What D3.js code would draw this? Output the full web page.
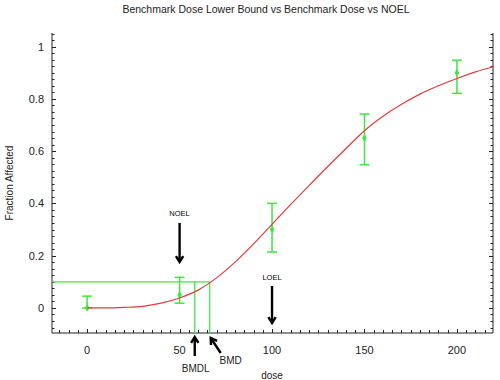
<!DOCTYPE html>
<html>
<head>
<meta charset="utf-8">
<script src="https://cdn.jsdelivr.net/npm/d3@7"></script>
<style>
  body { margin: 0; background: #fff; }
  svg { display: block; font-family: "Liberation Sans", Arial, sans-serif; }
</style>
</head>
<body>
<svg width="500" height="380"></svg>
<script>
// Observed dose groups with error bars.
const doses = [0, 50, 100, 150, 200];
const observed = [0, 0.05, 0.30, 0.65, 0.90];
const lower = [0, 0.018, 0.214, 0.548, 0.821];
const upper = [0.045, 0.117, 0.40, 0.742, 0.948];

// Fitted model curve.
const curveDose = [0, 10, 20, 30, 40, 50, 60, 70, 80, 90, 100, 110, 120, 130, 140, 150, 160, 170, 180, 190, 200, 210, 220];
const curveFrac = [0, 0.000, 0.002, 0.006, 0.018, 0.038, 0.068, 0.115, 0.175, 0.245, 0.32, 0.395, 0.468, 0.54, 0.61, 0.678, 0.733, 0.779, 0.818, 0.85, 0.878, 0.903, 0.924];

// Benchmark values.
const bmr = 0.1;
const bmd = 66.3;
const bmdl = 58.2;
const noel = 50;
const loel = 100;

// Tick labels.
const xTicks = [0, 50, 100, 150, 200];
const yTicks = [0, 0.2, 0.4, 0.6, 0.8, 1];

const green = "#3fe83f";
const red = "#e33b3b";

let svg = d3.select("svg");

let x = d3.scaleLinear().domain([-19, 219.5]).range([52, 493]);
let y = d3.scaleLinear().domain([-0.096, 1.052]).range([333, 33]);

// Title.
svg.append("text")
    .attr("x", 266).attr("y", 13)
    .attr("text-anchor", "middle")
    .style("font-size", "10.5px")
    .style("fill", "#222")
    .text("Benchmark Dose Lower Bound vs Benchmark Dose vs NOEL");

// Axes lines.
svg.append("line").attr("x1", 52).attr("x2", 52).attr("y1", 33).attr("y2", 333).style("stroke", "#222");
svg.append("line").attr("x1", 493).attr("x2", 493).attr("y1", 33).attr("y2", 333).style("stroke", "#222");
svg.append("line").attr("x1", 52).attr("x2", 493).attr("y1", 333).attr("y2", 333).style("stroke", "#222");

// Minor ticks on the y axes (inward on both sides).
let yMinor = d3.range(-0.075, 1.051, 0.025);
svg.selectAll(".ymin").data(yMinor).enter().append("line")
    .attr("x1", 52).attr("x2", 54.5)
    .attr("y1", d => Math.round(y(d)) + 0.5).attr("y2", d => Math.round(y(d)) + 0.5)
    .style("stroke", "#222");
svg.selectAll(".ymin2").data(yMinor).enter().append("line")
    .attr("x1", 490.5).attr("x2", 493)
    .attr("y1", d => Math.round(y(d)) + 0.5).attr("y2", d => Math.round(y(d)) + 0.5)
    .style("stroke", "#222");
svg.selectAll(".ymaj").data(yTicks).enter().append("line")
    .attr("x1", 52).attr("x2", 56)
    .attr("y1", d => Math.round(y(d)) + 0.5).attr("y2", d => Math.round(y(d)) + 0.5)
    .style("stroke", "#222");
svg.selectAll(".ymaj2").data(yTicks).enter().append("line")
    .attr("x1", 489).attr("x2", 493)
    .attr("y1", d => Math.round(y(d)) + 0.5).attr("y2", d => Math.round(y(d)) + 0.5)
    .style("stroke", "#222");

// Y tick labels.
svg.selectAll(".ylab").data(yTicks).enter().append("text")
    .attr("x", 44).attr("y", d => y(d) + 4)
    .attr("text-anchor", "end")
    .style("font-size", "11px").style("fill", "#222")
    .text(d => d3.format("~g")(d));

// Minor ticks on the x axis, every 5.
let xMinor = d3.range(-15, 219, 5);
svg.selectAll(".xmin").data(xMinor).enter().append("line")
    .attr("x1", d => Math.round(x(d)) + 0.5).attr("x2", d => Math.round(x(d)) + 0.5)
    .attr("y1", 333).attr("y2", 330)
    .style("stroke", "#222");
svg.selectAll(".xmaj").data(xTicks).enter().append("line")
    .attr("x1", d => Math.round(x(d)) + 0.5).attr("x2", d => Math.round(x(d)) + 0.5)
    .attr("y1", 333).attr("y2", 329)
    .style("stroke", "#222");
svg.selectAll(".xlab").data(xTicks).enter().append("text")
    .attr("x", d => x(d)).attr("y", 354)
    .attr("text-anchor", "middle")
    .style("font-size", "11px").style("fill", "#222")
    .text(d => d);

// Axis titles.
svg.append("text")
    .attr("x", x(100)).attr("y", 379)
    .attr("text-anchor", "middle")
    .style("font-size", "10px").style("fill", "#222")
    .text("dose");
svg.append("text")
    .attr("transform", "translate(13,183) rotate(-90)")
    .attr("text-anchor", "middle")
    .style("font-size", "10px").style("fill", "#222")
    .text("Fraction Affected");

// BMR / BMD / BMDL guide lines.
svg.append("line")
    .attr("x1", x(-19)).attr("x2", x(bmd))
    .attr("y1", y(bmr)).attr("y2", y(bmr))
    .style("stroke", green).style("stroke-width", 1.3);
[bmdl, bmd].forEach(function (d) {
    svg.append("line")
        .attr("x1", x(d)).attr("x2", x(d))
        .attr("y1", y(-0.096)).attr("y2", y(bmr))
        .style("stroke", green).style("stroke-width", 1.3);
});

// Error bars.
let groups = doses.map((d, i) => ({ dose: d, obs: observed[i], lo: lower[i], hi: upper[i] }));
groups.forEach(function (g) {
    let cx = x(g.dose);
    svg.append("line").attr("x1", cx).attr("x2", cx).attr("y1", y(g.lo)).attr("y2", y(g.hi))
        .style("stroke", green).style("stroke-width", 1.5);
    [g.lo, g.hi].forEach(function (v) {
        svg.append("line").attr("x1", cx - 5).attr("x2", cx + 5).attr("y1", y(v)).attr("y2", y(v))
            .style("stroke", green).style("stroke-width", 1.5);
    });
    svg.append("path")
        .attr("d", d3.symbol(d3.symbolDiamond, 18)())
        .attr("transform", "translate(" + cx + "," + y(g.obs) + ")")
        .style("fill", green);
});

// Fitted curve.
let line = d3.line()
    .x((d, i) => x(curveDose[i]))
    .y(d => y(d))
    .curve(d3.curveMonotoneX);
svg.append("path")
    .datum(curveFrac)
    .attr("d", line)
    .style("fill", "none")
    .style("stroke", red)
    .style("stroke-width", 1.2);

// Draw a thick arrow from (x1, y1) to the tip (x2, y2).
let draw_arrow = function (x1, y1, x2, y2) {
    let a = Math.atan2(y2 - y1, x2 - x1);
    let h = 7, spread = 0.55;
    svg.append("line")
        .attr("x1", x1).attr("y1", y1).attr("x2", x2).attr("y2", y2)
        .style("stroke", "#000").style("stroke-width", 2.4);
    svg.append("path")
        .attr("d", "M" + (x2 - h * Math.cos(a - spread)) + "," + (y2 - h * Math.sin(a - spread)) +
            "L" + x2 + "," + y2 +
            "L" + (x2 - h * Math.cos(a + spread)) + "," + (y2 - h * Math.sin(a + spread)))
        .style("fill", "none").style("stroke", "#000").style("stroke-width", 2.4);
};

// NOEL annotation.
svg.append("text").attr("x", x(noel)).attr("y", 216)
    .attr("text-anchor", "middle").style("font-size", "7.5px").style("fill", "#000")
    .text("NOEL");
draw_arrow(x(noel), 223, x(noel), 262);

// LOEL annotation.
svg.append("text").attr("x", x(loel)).attr("y", 280)
    .attr("text-anchor", "middle").style("font-size", "7.5px").style("fill", "#000")
    .text("LOEL");
draw_arrow(x(loel), 286, x(loel), 323);

// BMDL annotation.
draw_arrow(x(bmdl), 356, x(bmdl), 337);
svg.append("text").attr("x", x(bmdl) + 1).attr("y", 372)
    .attr("text-anchor", "middle").style("font-size", "10px").style("fill", "#222")
    .text("BMDL");

// BMD annotation.
draw_arrow(x(bmd) + 11, 353, x(bmd) + 1, 338);
svg.append("text").attr("x", x(bmd) + 21).attr("y", 364)
    .attr("text-anchor", "middle").style("font-size", "10px").style("fill", "#222")
    .text("BMD");
</script>
</body>
</html>
